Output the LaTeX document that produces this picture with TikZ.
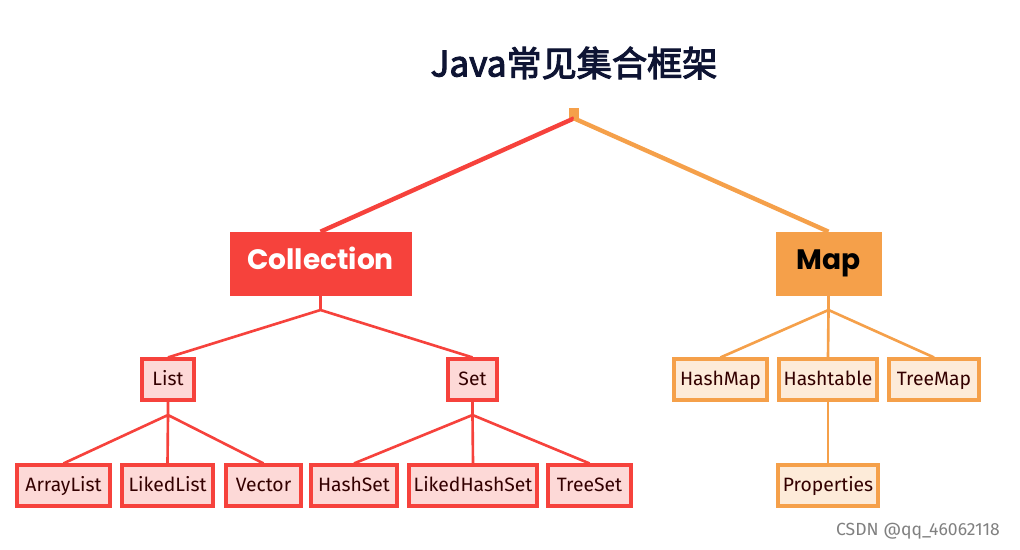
\documentclass[tikz,border=0pt]{standalone}
\usepackage{fontspec}
\setmainfont{Fira Sans}
\newfontfamily\pop{Poppins}
\newfontfamily\cjk{Noto Sans CJK SC}[AutoFakeBold=3]
\definecolor{rd}{HTML}{F6423C}
\definecolor{rdl}{HTML}{FDD9D7}
\definecolor{og}{HTML}{F5A04A}
\definecolor{ogl}{HTML}{FDEBD9}
\definecolor{ttl}{HTML}{0E1433}
\tikzset{
 x=0.02cm,y=-0.02cm,
 rbox/.style={draw=rd,line width=1.8pt,fill=rdl,text=black!80!red,font=\fontsize{11}{12}\selectfont,inner sep=0pt,minimum height=0.82cm,text height=1.6ex,text depth=0.3ex},
 obox/.style={draw=og,line width=1.8pt,fill=ogl,text=black!80!red,font=\fontsize{11}{12}\selectfont,inner sep=0pt,minimum height=0.82cm,text height=1.6ex,text depth=0.3ex},
 rl/.style={draw=rd,line width=1.5pt},
 ol/.style={draw=og,line width=1.5pt},
}
\begin{document}
\begin{tikzpicture}
\useasboundingbox (0,0) rectangle (1020,549);
\node[font=\cjk\bfseries\fontsize{20}{24}\selectfont,text=ttl] (title) at (574,63) {Java常见集合框架};
\node[fill=og,minimum size=0.2cm,inner sep=0pt] (root) at (574,113) {};
\node[fill=rd,draw=rd,text=white,font=\pop\bfseries\fontsize{16}{18}\selectfont,minimum width=3.62cm,minimum height=1.26cm,text height=1.6ex,text depth=0.3ex] (coll) at (320.5,263.5) {Collection};
\node[fill=og,draw=og,text=black,font=\pop\bfseries\fontsize{16}{18}\selectfont,minimum width=2.1cm,minimum height=1.26cm,text height=1.6ex,text depth=0.3ex] (map) at (828.5,263.5) {Map};
\node[rbox,minimum width=1.04cm] (list) at (168,379.5) {List};
\node[rbox,minimum width=0.98cm] (set) at (472.5,379.5) {Set};
\node[obox,minimum width=1.86cm] (hm) at (720.5,379.5) {HashMap};
\node[obox,minimum width=1.96cm] (ht) at (828,379.5) {Hashtable};
\node[obox,minimum width=1.8cm] (tm) at (934,379.5) {TreeMap};
\node[rbox,minimum width=1.86cm] (al) at (63.5,485.5) {ArrayList};
\node[rbox,minimum width=1.82cm] (ll) at (167.5,485.5) {LikedList};
\node[rbox,minimum width=1.5cm] (vec) at (263.5,485.5) {Vector};
\node[rbox,minimum width=1.72cm] (hs) at (354,485.5) {HashSet};
\node[rbox,minimum width=2.56cm] (lhs) at (473,485.5) {LikedHashSet};
\node[rbox,minimum width=1.66cm] (ts) at (589.5,485.5) {TreeSet};
\node[obox,minimum width=2.0cm] (pr) at (828,485.5) {Properties};
\node[text=gray,font=\fontsize{10}{12}\selectfont,anchor=east] (wm) at (1006,531) {CSDN @qq\_46062118};
% connectors
\draw[rd,line width=2.5pt] (root.south) -- (coll.north);
\draw[og,line width=2.5pt] (root.south) -- (map.north);
\coordinate (cj) at (320.5,310);
\draw[rl] (coll.south) -- (cj) (cj) -- (list.north) (cj) -- (set.north);
\coordinate (lj) at (168,415);
\draw[rl] (list.south) -- (lj) (lj) -- (al.north) (lj) -- (ll.north) (lj) -- (vec.north);
\coordinate (sj) at (472.5,415);
\draw[rl] (set.south) -- (sj) (sj) -- (hs.north) (sj) -- (lhs.north) (sj) -- (ts.north);
\coordinate (mj) at (828.5,310);
\draw[ol] (map.south) -- (mj) (mj) -- (hm.north) (mj) -- (ht.north) (mj) -- (tm.north);
\draw[ol] (ht.south) -- (pr.north);
\end{tikzpicture}
\end{document}
